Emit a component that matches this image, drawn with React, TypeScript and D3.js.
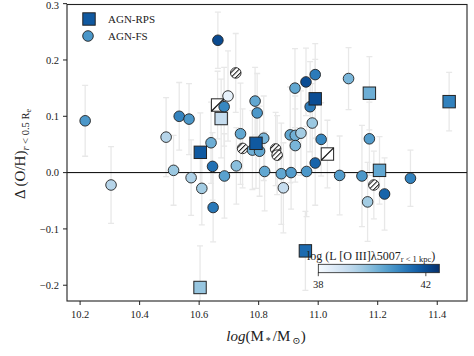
import React from 'react';
import * as d3 from 'd3';

// ---------- data ----------
const fsMass = [10.217,10.304,10.489,10.533,10.566,10.514,10.573,10.609,10.640,10.645,10.647,10.663,10.684,10.697,10.685,10.725,10.739,10.788,10.795,10.779,10.803,10.817,10.820,10.876,10.909,10.883,10.906,10.923,10.942,10.923,10.922,10.959,10.990,10.973,10.980,11.010,10.961,10.990,11.072,11.102,11.147,11.172,11.166,11.223,11.310];
const fsDelta = [0.092,-0.022,0.063,0.100,0.095,0.004,-0.009,-0.028,0.053,0.011,-0.062,0.235,0.117,0.136,-0.006,0.012,0.069,0.127,0.106,0.040,0.038,0.061,0.002,-0.002,0.000,-0.027,0.067,0.066,0.070,0.048,0.150,0.161,0.174,0.117,0.088,0.059,0.002,0.017,-0.005,0.167,-0.006,0.060,-0.052,-0.038,-0.010];
const fsErr = [0.063,0.068,0.07,0.06,0.063,0.062,0.067,0.065,0.072,0.06,0.061,0.05,0.07,0.08,0.075,0.068,0.09,0.06,0.07,0.07,0.08,0.075,0.07,0.09,0.065,0.08,0.085,0.07,0.075,0.065,0.07,0.06,0.055,0.08,0.07,0.065,0.08,0.075,0.07,0.055,0.09,0.065,0.07,0.064,0.05];
const fsLum = [40.7,39.35,39.35,41.06,40.7,39.7,39.45,39.6,40.25,41.4,41.25,42.05,41.0,38.35,40.5,39.9,40.4,40.4,40.7,40.2,40.4,40.1,40.4,40.4,40.6,39.1,40.4,40.2,39.6,40.1,40.4,42.0,41.2,41.2,39.7,41.0,40.7,41.6,40.6,40.1,40.7,40.6,39.6,41.6,41.1];

const rpsMass = [10.604,10.674,10.791,10.990,11.172,11.206,11.440,10.957,10.603];
const rpsDelta = [0.036,0.096,0.052,0.131,0.141,0.004,0.126,-0.139,-0.204];
const rpsErr = [0.07,0.07,0.08,0.07,0.065,0.06,0.052,0.07,0.074];
const rpsLum = [41.8,39.1,41.8,42.0,40.25,40.4,41.1,41.5,39.75];

const hatchFsMass = [10.723,10.746,10.857,10.862,11.187];
const hatchFsDelta = [0.177,0.043,0.042,0.031,-0.022];
const hatchFsErr = [0.07,0.07,0.065,0.07,0.06];
const hatchRpsMass = [10.662,11.031];
const hatchRpsDelta = [0.120,0.033];
const hatchRpsErr = [0.06,0.06];

const xTicks = [10.2,10.4,10.6,10.8,11.0,11.2,11.4];
const yTicks = [-0.2,-0.1,0.0,0.1,0.2,0.3];
const cbTicks = [38,42];
const legendLabels = ['AGN-RPS','AGN-FS'];

// ---------- layout ----------
const W = 474, H = 356;
const L = 67, R = 467, T = 4.5, B = 301;
const x = d3.scaleLinear().domain([10.156, 11.5]).range([L, R]);
const y = d3.scaleLinear().domain([-0.228, 0.2985]).range([B, T]);
const color = d3.scaleSequential(d3.interpolateBlues).domain([38, 42.5]);
const cbX = d3.scaleLinear().domain([38, 42.5]).range([318.3, 439.3]);
const cbTop = 264.3, cbH = 8.4;

const FONT = "'Liberation Serif', 'DejaVu Serif', 'Times New Roman', serif";
const R_C = 5.3, S_Q = 12.4;
const ERR_COL = '#e8e8e8';

type P = { m: number; d: number; e: number; l?: number };
const zip = (ms: number[], ds: number[], es: number[], ls?: number[]): P[] =>
  ms.map((m, i) => ({ m, d: ds[i], e: es[i], l: ls ? ls[i] : undefined }));

export default function App() {
  const fs = zip(fsMass, fsDelta, fsErr, fsLum);
  const rps = zip(rpsMass, rpsDelta, rpsErr, rpsLum);
  const hfs = zip(hatchFsMass, hatchFsDelta, hatchFsErr);
  const hrps = zip(hatchRpsMass, hatchRpsDelta, hatchRpsErr);
  const all = [...fs, ...rps, ...hfs, ...hrps];

  const stops = d3.range(0, 1.0001, 0.05);

  return (
    <svg width={W} height={H} style={{ position: 'absolute', left: 0, top: 0, background: '#fff' }} fontFamily={FONT}>
      <defs>
        <pattern id="hc" patternUnits="userSpaceOnUse" width={3.4} height={3.4} patternTransform="rotate(45)">
          <rect width={3.4} height={3.4} fill="#fff" />
          <line x1={0} y1={0} x2={0} y2={3.4} stroke="#111" strokeWidth={2} />
        </pattern>
        <linearGradient id="cb" x1="0" x2="1" y1="0" y2="0">
          {stops.map((t, i) => (
            <stop key={i} offset={t} stopColor={d3.interpolateBlues(t)} />
          ))}
        </linearGradient>
        <clipPath id="plot"><rect x={L} y={T} width={R - L} height={B - T} /></clipPath>
      </defs>

      <g clipPath="url(#plot)">
        {/* error bars */}
        {all.map((p, i) => {
          const cx = x(p.m);
          const y1 = y(p.d + p.e), y2 = y(p.d - p.e);
          return (
            <g key={'e' + i} stroke={ERR_COL} strokeWidth={1.3}>
              <line x1={cx} x2={cx} y1={y1} y2={y2} />
              <line x1={cx - 3} x2={cx + 3} y1={y1} y2={y1} />
              <line x1={cx - 3} x2={cx + 3} y1={y2} y2={y2} />
            </g>
          );
        })}
        {/* zero line */}
        <line x1={L} x2={R} y1={y(0)} y2={y(0)} stroke="#000" strokeWidth={1} />

        {/* hatched squares */}
        {hrps.map((p, i) => {
          const cx = x(p.m), cy = y(p.d), h = S_Q / 2;
          return (
            <g key={'hs' + i}>
              <rect x={cx - h} y={cy - h} width={S_Q} height={S_Q} fill="#fff" stroke="#222" strokeWidth={1} />
              <line x1={cx - h} y1={cy + h} x2={cx + h} y2={cy - h} stroke="#111" strokeWidth={1.2} />
            </g>
          );
        })}
        {/* hatched circles */}
        {hfs.map((p, i) => (
          <circle key={'hc' + i} cx={x(p.m)} cy={y(p.d)} r={R_C} fill="url(#hc)" stroke="#222" strokeWidth={0.9} />
        ))}
        {/* AGN-FS circles */}
        {fs.map((p, i) => (
          <circle key={'c' + i} cx={x(p.m)} cy={y(p.d)} r={R_C} fill={color(p.l as number)} stroke="#222" strokeWidth={0.9} />
        ))}
        {/* AGN-RPS squares */}
        {rps.map((p, i) => (
          <rect key={'s' + i} x={x(p.m) - S_Q / 2} y={y(p.d) - S_Q / 2} width={S_Q} height={S_Q}
            fill={color(p.l as number)} stroke="#222" strokeWidth={1} />
        ))}
      </g>

      {/* frame */}
      <rect x={L} y={T} width={R - L} height={B - T} fill="none" stroke="#222" strokeWidth={1.1} />

      {/* x ticks */}
      {xTicks.map((t) => (
        <g key={'xt' + t}>
          <line x1={x(t)} x2={x(t)} y1={B} y2={B + 4} stroke="#222" />
          <text x={x(t)} y={318} fontSize={10.5} textAnchor="middle" fill="#222">{t.toFixed(1)}</text>
        </g>
      ))}
      {/* y ticks */}
      {yTicks.map((t) => (
        <g key={'yt' + t}>
          <line x1={L - 4} x2={L} y1={y(t)} y2={y(t)} stroke="#222" />
          <text x={L - 8} y={Math.max(y(t) + 3.6, 8.5)} fontSize={10.5} textAnchor="end" fill="#222">
            {(t < 0 ? '\u2212' : '') + Math.abs(t).toFixed(1)}
          </text>
        </g>
      ))}

      {/* x label */}
      <text x={266} y={341} fontSize={15} textAnchor="middle" fill="#222">
        <tspan fontStyle="italic">log</tspan>(M<tspan fontSize={10} dy={3}>{'\u2009*\u2009'}</tspan>
        <tspan dy={-3}>/M</tspan><tspan fontSize={10} dy={3}>{'\u2009\u2299'}</tspan><tspan dy={-3}>)</tspan>
      </text>

      {/* y label */}
      <text transform={`translate(25,${154}) rotate(-90)`} fontSize={15} textAnchor="middle" fill="#222">
        {'\u0394 (O/H)'}<tspan fontSize={10.5} dy={3.5}><tspan fontStyle="italic">r</tspan>{' < 0.5 R'}</tspan>
        <tspan fontSize={8} dy={2}>e</tspan>
      </text>

      {/* legend */}
      <rect x={89 - 6.2} y={19 - 6.2} width={12.4} height={12.4} fill={color(41.8)} stroke="#222" strokeWidth={1} />
      <text x={108} y={23} fontSize={11} fill="#222">{legendLabels[0]}</text>
      <circle cx={88} cy={36} r={R_C} fill={color(40.7)} stroke="#222" strokeWidth={0.9} />
      <text x={108} y={40} fontSize={11} fill="#222">{legendLabels[1]}</text>

      {/* colorbar */}
      <text x={307} y={259.5} fontSize={12} fill="#222">
        {'log  (L [O III]\u03bb5007'}<tspan fontSize={8.5} dy={2.5}>{'r < 1 kpc'}</tspan><tspan dy={-2.5}>)</tspan>
      </text>
      <rect x={cbX(38)} y={cbTop} width={cbX(42.5) - cbX(38)} height={cbH} fill="url(#cb)" stroke="#222" strokeWidth={0.8} />
      {cbTicks.map((t) => (
        <g key={'cb' + t}>
          <line x1={cbX(t)} x2={cbX(t)} y1={cbTop + cbH} y2={cbTop + cbH + 3.5} stroke="#222" strokeWidth={0.8} />
          <text x={cbX(t)} y={288} fontSize={10.5} textAnchor="middle" fill="#222">{t}</text>
        </g>
      ))}
    </svg>
  );
}
